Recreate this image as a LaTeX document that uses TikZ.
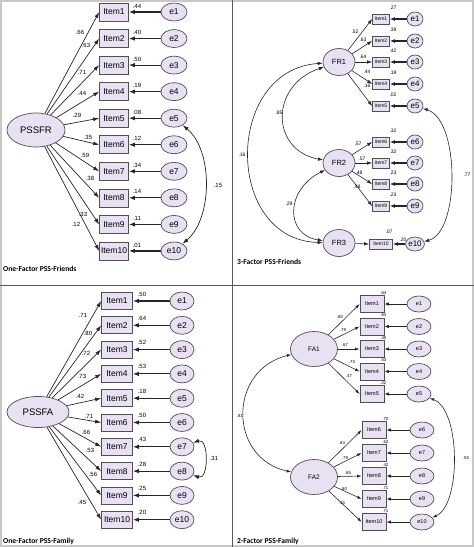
\documentclass[tikz,border=0pt]{standalone}
\usepackage{fontspec}
\setmainfont{Liberation Sans}
\newfontfamily\capfont{Carlito}
\usetikzlibrary{arrows.meta,shapes.geometric}
\definecolor{latfill}{RGB}{233,224,243}
\definecolor{boxline}{RGB}{80,80,80}
\definecolor{framegray}{RGB}{200,200,200}

\begin{document}
\begin{tikzpicture}[x=1pt,y=-1pt,
    item/.style={draw=boxline, fill=latfill, line width=0.7pt, inner sep=0pt,
      minimum width=29pt, minimum height=18pt, font=\fontsize{8.5}{9}\selectfont},
    err/.style={ellipse, draw=boxline, fill=latfill, line width=0.7pt, inner sep=0pt,
      minimum width=26pt, minimum height=18pt, font=\fontsize{8.5}{9}\selectfont},
    latent/.style={ellipse, draw=boxline, fill=latfill, line width=0.7pt, inner sep=0pt,
      minimum width=58pt, minimum height=34pt, font=\fontsize{9.5}{10}\selectfont},
    load/.style={-{Latex[length=6pt,width=4pt]}, line width=0.7pt, black!85},
    erra/.style={-{Latex[length=6pt,width=4.5pt]}, line width=1.1pt, black!85},
    cov/.style={{Latex[length=6pt,width=4pt]}-{Latex[length=6pt,width=4pt]}, line width=0.7pt, black!85},
    num/.style={inner sep=0pt, font=\fontsize{6}{6}\selectfont},
    capt/.style={anchor=west, inner sep=0pt, font=\capfont\bfseries\fontsize{7.6}{8}\selectfont}]
\useasboundingbox (0,0) rectangle (474,547);
% frame and panel lines
\draw[framegray, line width=2pt] (1,1) rectangle (473,546);
\draw[black!65, line width=0.8pt] (232,0) -- (232,547);
\draw[black!65, line width=0.8pt] (0,285) -- (474,285);

% one-factor PSS-Friends
\node[latent] (pssfr) at (36,130) {PSSFR};
\foreach \i in {1,...,10} {
  \node[item] (p1i\i) at (114,{12+26.55*(\i-1)}) {Item\i};
  \node[err] (p1e\i) at (174,{12+26.55*(\i-1)}) {e\i};
  \draw[load] (pssfr) -- (p1i\i.west);
  \draw[erra] (p1e\i) -- (p1i\i);
}
\foreach \i/\v/\lx/\ly in {1/.66/80/32, 2/.63/86/45, 3/.71/82/72, 4/.44/82/93, 5/.29/77/115,
    6/.35/88/137, 7/.59/85/155, 8/.38/90/178, 9/.33/83/214, 10/.12/76/224}
  \node[num] (p1l\i) at (\lx,\ly) {\v};
\foreach \i/\v in {1/.44, 2/.40, 3/.50, 4/.19, 5/.08, 6/.12, 7/.34, 8/.14, 9/.11, 10/.01}
  \node[num] (p1v\i) at (137,{6+26.55*(\i-1)}) {\v};
\draw[cov] (p1e5) .. controls (213,150) and (213,218) .. (p1e10);
\node[num] (p1c) at (218,185) {.15};
\node[capt] (p1t) at (3,269) {One-Factor PSS-Friends};

% one-factor PSS-Family
\begin{scope}[item/.append style={minimum width=31pt, minimum height=17pt},
    err/.append style={minimum width=24pt},
    latent/.append style={minimum width=62pt, minimum height=31pt}]
\node[latent] (pssfa) at (38,412) {PSSFA};
\foreach \i in {1,...,10} {
  \node[item] (p3i\i) at (117,{301+24.3*(\i-1)}) {Item\i};
  \node[err] (p3e\i) at (182,{301+24.3*(\i-1)}) {e\i};
  \draw[load] (pssfa) -- (p3i\i.west);
  \draw[erra] (p3e\i) -- (p3i\i);
}
\foreach \i/\v/\lx/\ly in {1/.71/83/315, 2/.80/88/333, 3/.72/86/353, 4/.73/82/376, 5/.42/80/396,
    6/.71/89/416, 7/.66/86/432, 8/.53/90/450, 9/.56/93/474, 10/.45/82/502}
  \node[num] (p3l\i) at (\lx,\ly) {\v};
\foreach \i/\v in {1/.50, 2/.64, 3/.52, 4/.53, 5/.18, 6/.50, 7/.43, 8/.28, 9/.25, 10/.20}
  \node[num] (p3v\i) at (142,{294+24.3*(\i-1)}) {\v};
\draw[cov] (p3e7) .. controls (209,437) and (209,481) .. (p3e8);
\node[num] (p3c) at (214,458) {.31};
\end{scope}
\node[capt] (p3t) at (3,541) {One-Factor PSS-Family};

% 3-factor PSS-Friends
\begin{scope}[item/.append style={minimum height=10pt, font=\fontsize{5}{5}\selectfont},
    err/.append style={minimum width=16pt, minimum height=14pt, font=\fontsize{8}{8}\selectfont},
    latent/.append style={minimum width=32pt, minimum height=27pt, font=\fontsize{7.5}{8}\selectfont},
    load/.style={-{Latex[length=5pt,width=3.5pt]}, line width=0.6pt, black!85},
    erra/.style={-{Latex[length=5pt,width=4pt]}, line width=1.1pt, black!85},
    cov/.style={{Latex[length=5pt,width=3.5pt]}-{Latex[length=5pt,width=3.5pt]}, line width=0.6pt, black!85},
    num/.append style={font=\fontsize{5}{5}\selectfont}]
\node[latent] (fr1) at (339,62) {FR1};
\node[latent] (fr2) at (339,163) {FR2};
\node[latent] (fr3) at (339,243) {FR3};
\foreach \i/\y/\f/\w in {1/19/fr1/17, 2/41/fr1/17, 3/62/fr1/17, 4/84/fr1/17, 5/106/fr1/17,
    6/142/fr2/17, 7/163/fr2/17, 8/184/fr2/17, 9/206/fr2/17, 10/244/fr3/23} {
  \node[item, minimum width=\w pt] (p2i\i) at (381,\y) {Item\i};
  \node[err] (p2e\i) at (415,\y) {e\i};
  \draw[load] (\f) -- (p2i\i.west);
  \draw[erra] (p2e\i) -- (p2i\i);
}
\foreach \i/\v/\lx/\ly in {1/.52/355/32, 2/.63/363/40, 3/.64/363/57, 4/.44/367/72, 5/.16/367/86,
    6/.57/358/144, 7/.57/362/159, 8/.48/359/173, 9/.48/357/187}
  \node[num] (p2l\i) at (\lx,\ly) {\v};
\foreach \i/\v/\y in {1/.27/19, 2/.39/41, 3/.42/62, 4/.19/84, 5/.02/106,
    6/.32/142, 7/.32/163, 8/.23/184, 9/.23/206}
  \node[num] (p2v\i) at (393,\y-11.5) {\v};
\node[num] (p2v10) at (389,232) {.07};
\node[num] (p2w10) at (403,240) {.20};
\draw[cov] (fr1) .. controls (224,70) and (224,240) .. (fr3);
\draw[cov] (fr1) .. controls (270,85) and (270,150) .. (fr2);
\draw[cov] (fr2) .. controls (285,190) and (285,235) .. (fr3);
\node[num] (p2c1) at (279,113) {.85};
\node[num] (p2c2) at (242,155) {.16};
\node[num] (p2c3) at (289,204) {.29};
\draw[cov] (p2e5) .. controls (460,120) and (460,232) .. (p2e10);
\node[num] (p2c4) at (467,175) {.77};
\end{scope}
\node[capt] (p2t) at (237,262) {3-Factor PSS-Friends};

% 2-factor PSS-Family
\begin{scope}[item/.append style={minimum width=24pt, minimum height=17pt, font=\fontsize{5.5}{6}\selectfont},
    err/.append style={minimum width=24pt, minimum height=16pt, font=\fontsize{5.5}{6}\selectfont},
    latent/.append style={minimum width=47pt, minimum height=35pt, font=\fontsize{6.5}{7}\selectfont},
    load/.style={-{Latex[length=4.5pt,width=3pt]}, line width=0.6pt, black!85},
    erra/.style={-{Latex[length=4.5pt,width=3.5pt]}, line width=1pt, black!85},
    cov/.style={{Latex[length=4.5pt,width=3pt]}-{Latex[length=4.5pt,width=3pt]}, line width=0.6pt, black!85},
    num/.append style={font=\fontsize{4.3}{5}\selectfont}]
\node[latent] (fa1) at (314,349) {FA1};
\node[latent] (fa2) at (314,477) {FA2};
\foreach \i/\y/\f/\x/\ex in {1/304/fa1/372/419, 2/326.5/fa1/372/419, 3/349/fa1/372/419,
    4/371.5/fa1/372/419, 5/394/fa1/372/419, 6/430/fa2/374/422, 7/453/fa2/374/422,
    8/476/fa2/374/422, 9/499/fa2/374/422, 10/522/fa2/374/422} {
  \node[item] (p4i\i) at (\x,\y) {Item\i};
  \node[err] (p4e\i) at (\ex,\y) {e\i};
  \draw[load] (\f) -- (p4i\i.west);
  \draw[erra] (p4e\i) -- (p4i\i);
}
\foreach \i/\v/\lx/\ly in {1/.80/340/317, 2/.79/343/330, 3/.67/345/345, 4/.73/352/362, 5/.47/349/376,
    6/.84/342/443, 7/.79/345/458, 8/.65/348/473, 9/.60/344/489, 10/.45/342/503}
  \node[num] (p4l\i) at (\lx,\ly) {\v};
\foreach \i/\v in {1/.64, 2/.63, 3/.45, 4/.53, 5/.22, 6/.70, 7/.62, 8/.42, 9/.71, 10/.71}
  \node[num] (p4v\i) at ([xshift=-1pt,yshift=2.5pt]p4i\i.north east) {\v};
\draw[cov] (fa1) .. controls (228,370) and (228,458) .. (fa2);
\node[num] (p4c1) at (240,416) {.81};
\draw[cov] (p4e5) .. controls (461,410) and (461,505) .. (p4e10);
\node[num] (p4c2) at (466,458) {.55};
\end{scope}
\node[capt] (p4t) at (237,541) {2-Factor PSS-Family};
\end{tikzpicture}
\end{document}
